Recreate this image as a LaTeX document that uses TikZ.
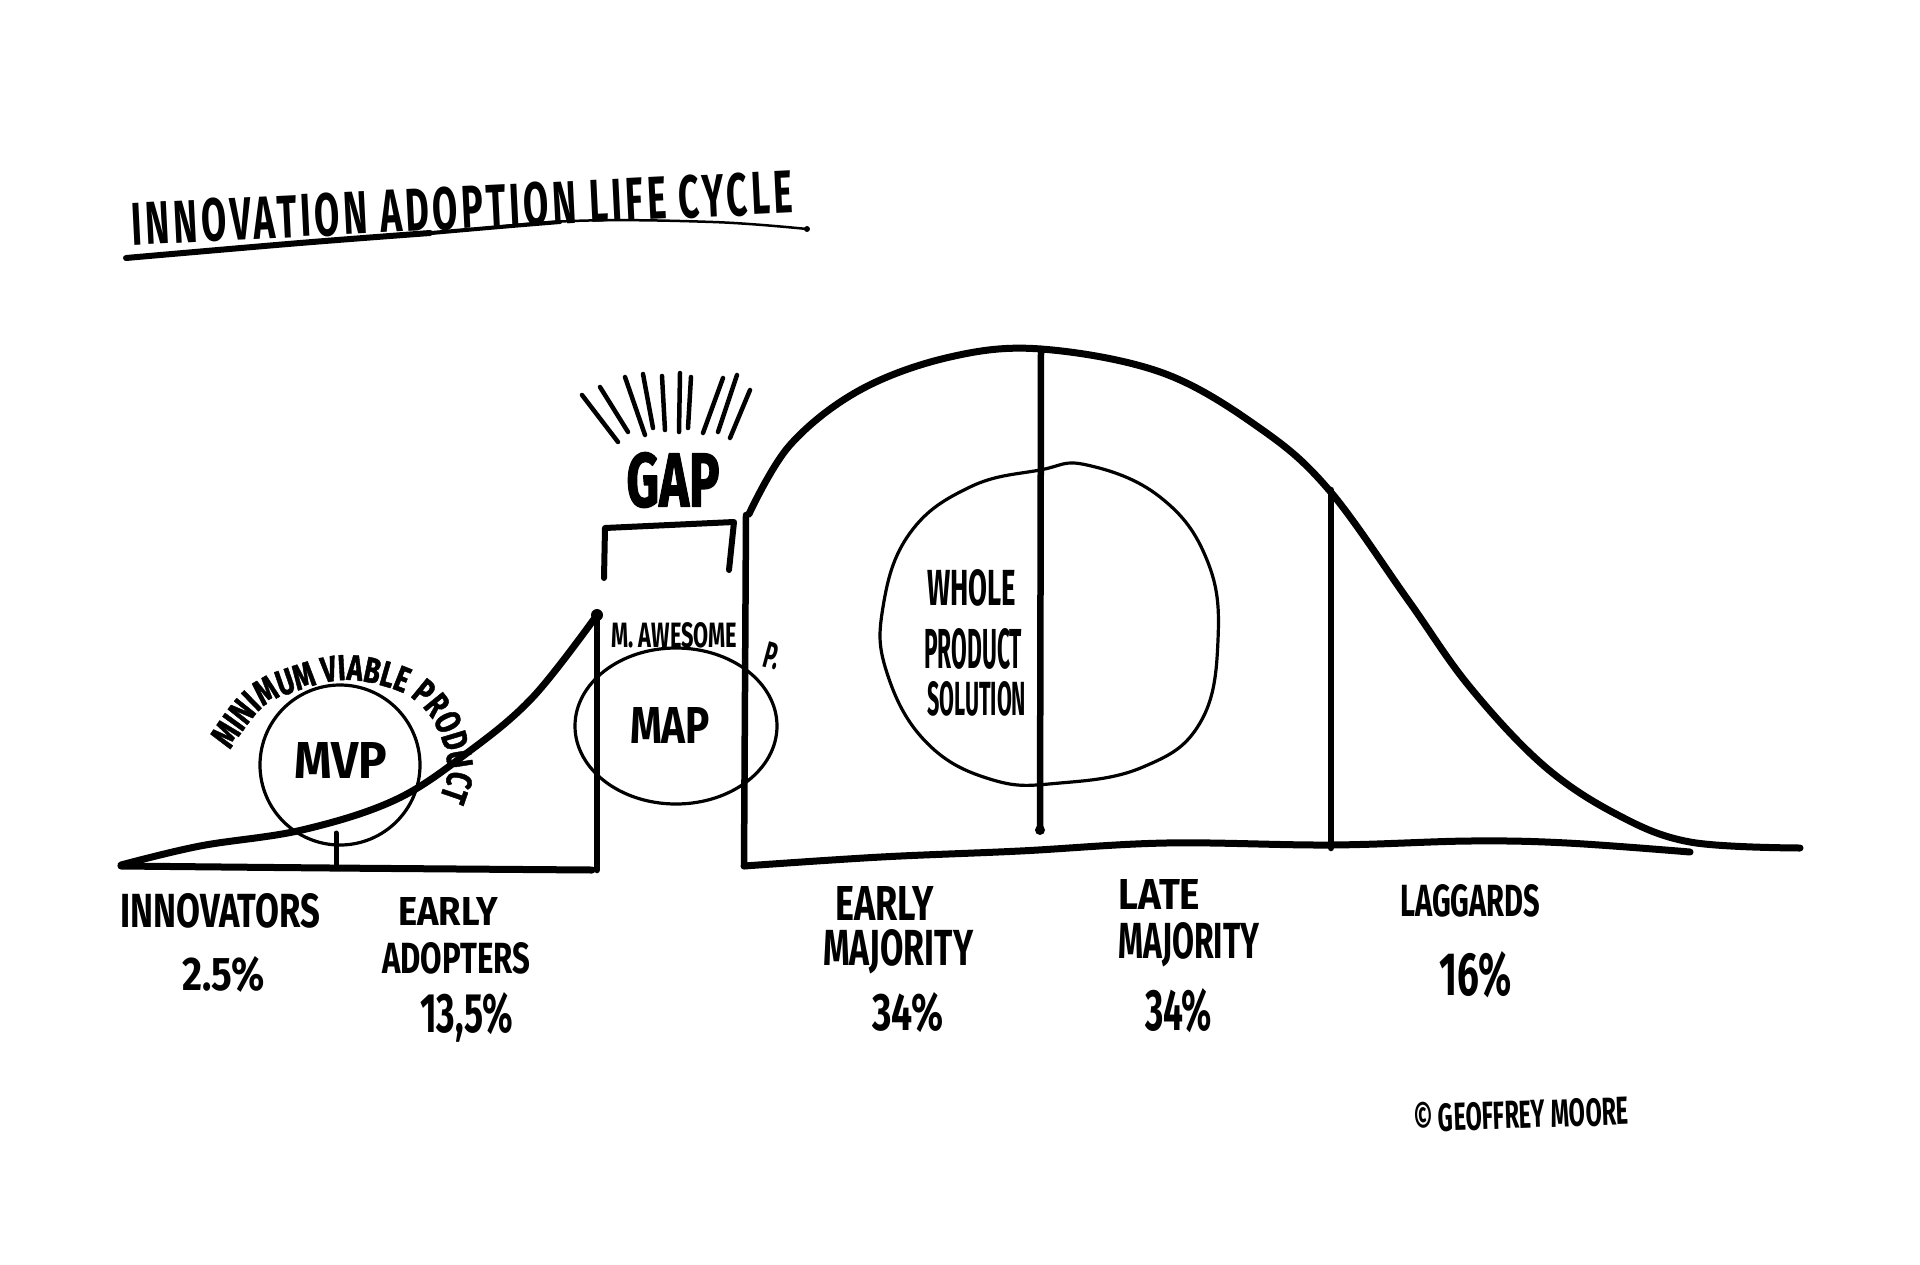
\documentclass[tikz,border=0pt]{standalone}
\usepackage{fontspec}
\setmainfont{Fira Sans}
\newfontfamily\narrowfont[FakeStretch=0.74,FakeBold=1.2]{Fira Sans}
\usetikzlibrary{decorations.text}
\newcommand{\hand}[3]{\resizebox{#1pt}{#2pt}{\bfseries #3}}
\begin{document}
\begin{tikzpicture}[x=1pt,y=1pt,line cap=round,line join=round,
  curve/.style={line width=7pt},
  divider/.style={line width=6.5pt},
  bracket/.style={line width=6pt},
  ray/.style={line width=4.5pt},
  ring/.style={line width=3.2pt},
  lbl/.style={inner sep=0pt,anchor=base west},
  ctr/.style={inner sep=0pt,anchor=center}]
\useasboundingbox (0,0) rectangle (1920,-1264);
\fill[white] (0,0) rectangle (1920,-1264);

% title
\node[ctr,rotate=2.8] (title) at (462,-208) {\hand{662}{43}{\addfontfeatures{LetterSpace=10}INNOVATION ADOPTION LIFE CYCLE}};
\draw[line width=2.5pt] plot[smooth,tension=0.6] coordinates {(126,-258) (430,-233) (572,-221) (713,-222) (807,-229)};
\draw[line width=6pt] plot[smooth,tension=0.6] coordinates {(126,-258) (300,-243) (430,-233)};
\draw[line width=4pt] plot[smooth,tension=0.6] coordinates {(420,-234) (500,-227) (560,-222)};
\fill (807,-229) circle (3);

% left part
\draw[curve] plot[smooth,tension=0.6] coordinates {(121,-865) (200,-846) (302,-830) (395,-800) (467,-753) (533,-697) (597,-615)};
\draw[curve] plot[smooth,tension=0.6] coordinates {(121,-866) (331,-868) (592,-870)};
\draw[divider] (597,-615) -- (597,-870);
\fill (597,-615) circle (6);
\draw[line width=5pt] (336,-833) -- (336,-867);

% MVP
\draw[ring] (340,-765) circle (80);
\node[ctr] (mvp) at (341,-760) {\hand{93}{36}{MVP}};
\path[decorate,decoration={text along path,text align=left,
  text={|\narrowfont\fontsize{36}{36}\selectfont\bfseries|MINIMUM VIABLE PRODUCT}}]
  plot[smooth,tension=0.6] coordinates {(230,-750) (262,-708) (300,-690) (345,-680) (390,-688) (418,-703) (438,-730) (448,-770) (440,-800) (437,-850)};

% gap
\draw[divider] (746,-515) -- (744,-866);
\draw[bracket] (604,-578) -- (605,-528) -- (734,-522) -- (729,-570);
\node[ctr] (gap) at (673,-480) {\hand{93}{54}{\addfontfeatures{FakeBold=2}GAP}};
\foreach \a/\b/\c/\d in {582/395/618/442, 600/387/628/432, 625/377/645/435, 643/374/653/428, 662/376/665/430, 680/373/679/432, 691/377/688/428, 723/378/703/433, 737/375/718/432, 750/390/730/438}
  \draw[ray] (\a,-\b) -- (\c,-\d);

% MAP
\draw[ring] (676,-726) ellipse [x radius=101, y radius=78];
\node[ctr] (map) at (670,-725) {\hand{80}{36}{MAP}};
\node[lbl] (awesome) at (611,-647) {\hand{126}{25}{M. AWESOME}};
\node[ctr,rotate=-15] (pdot) at (772,-656) {\hand{15}{26}{P.}};

% bell
\draw[curve] plot[smooth,tension=0.6] coordinates {(749,-514) (790,-445) (860,-390) (950,-357) (1041,-349) (1163,-373) (1261,-429) (1329,-490) (1408,-600) (1469,-686) (1543,-765) (1616,-814) (1690,-842) (1800,-848)};
\draw[curve] plot[smooth,tension=0.6] coordinates {(744,-866) (881,-857) (1020,-851) (1166,-843) (1330,-845) (1470,-841) (1567,-843) (1690,-852)};
\draw[divider] (1041,-349) -- (1040,-830);
\fill (1040,-830) circle (5);
\draw[divider] (1331,-490) -- (1331,-848);

% whole product
\draw[ring] plot[smooth cycle,tension=0.7] coordinates {(1040,-470) (1087,-465) (1160,-497) (1207,-560) (1218,-640) (1200,-723) (1143,-767) (1060,-783) (993,-780) (927,-743) (887,-673) (883,-607) (910,-533) (970,-487)};
\node[ctr,anchor=west] (whole) at (927,-588) {\hand{89}{36}{WHOLE}};
\node[ctr,anchor=west] (product) at (924,-649) {\hand{98}{40}{PRODUCT}};
\node[ctr,anchor=west] (solution) at (927,-699) {\hand{99}{34}{SOLUTION}};

% labels
\node[lbl] (innov) at (120,-927) {\hand{200}{34}{INNOVATORS}};
\node[lbl] (innovp) at (182,-990) {\hand{83}{34}{2.5\%}};
\node[lbl] (early) at (398,-925) {\hand{100}{28}{EARLY}};
\node[lbl] (adopt) at (382,-973) {\hand{148}{31}{ADOPTERS}};
\node[lbl] (adoptp) at (420,-1032) {\hand{93}{40}{13,5\%}};
\node[lbl] (emaj1) at (835,-920) {\hand{99}{34}{EARLY}};
\node[lbl] (emaj2) at (823,-965) {\hand{150}{36}{MAJORITY}};
\node[lbl] (emajp) at (872,-1030) {\hand{71}{38}{34\%}};
\node[lbl] (lmaj1) at (1118,-909) {\hand{82}{30}{LATE}};
\node[lbl] (lmaj2) at (1118,-958) {\hand{141}{36}{MAJORITY}};
\node[lbl] (lmajp) at (1145,-1030) {\hand{67}{42}{34\%}};
\node[lbl] (lag) at (1400,-916) {\hand{140}{32}{LAGGARDS}};
\node[lbl] (lagp) at (1439,-995) {\hand{73}{44}{16\%}};
\node[lbl,rotate=2] (credit) at (1414,-1132) {\hand{215}{30}{© GEOFFREY MOORE}};
\end{tikzpicture}
\end{document}
